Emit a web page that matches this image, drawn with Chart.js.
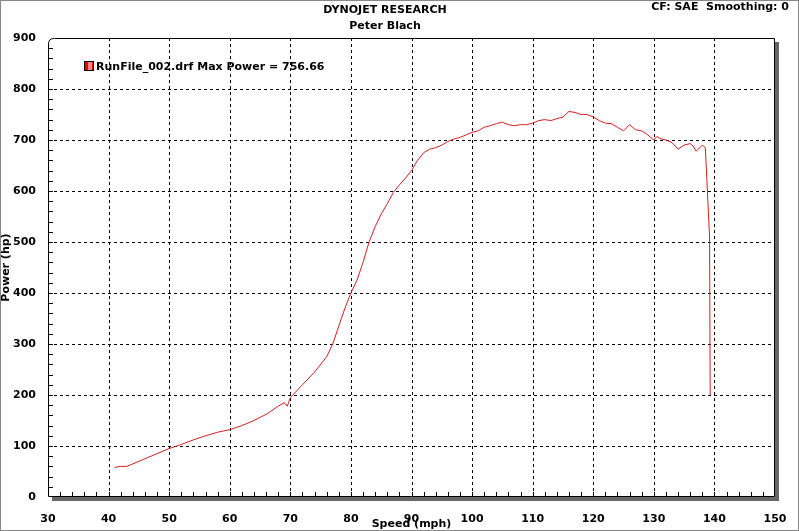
<!DOCTYPE html>
<html><head><meta charset="utf-8">
<script src="https://cdn.jsdelivr.net/npm/chart.js@4"></script>
<style>html,body{margin:0;background:#fff}#w{width:799px;height:531px}</style>
</head><body><div id="w"><canvas id="c" width="799" height="531"></canvas></div>
<script>
const speed = [41,42,43,44,45,46,47,48,49,50,52,54,56,58,60,62,64,66,68,69,69.5,70,72,74,76,77,78,79,80,81,82,83,84,85,86,87,88,89,90,91,92,93,94,95,96,97,98,99,100,101,102,103,104,105,106,107,108,109,110,111,112,113,114,115,116,117,118,119,120,121,122,123,124,125,126,127,128,129,130,130.5,131,132,133,134,135,136,136.5,137,138,138.5,139,139.2,139.3];
const power = [58,60,60,65,70,75,80,85,90,95,103,112,120,127,132,140,150,162,178,185,178,195,220,245,275,300,335,370,400,425,460,500,530,555,575,597,612,625,640,660,675,682,685,690,697,702,705,710,715,718,725,728,732,735,730,728,730,730,733,738,740,738,742,745,756,754,750,750,745,738,733,732,725,718,730,720,718,710,700,707,703,700,695,682,690,693,688,678,690,685,560,510,200];
const xTicks = [30,40,50,60,70,80,90,100,110,120,130,140,150];
const yTicks = [0,100,200,300,400,500,600,700,800,900];
const FONT = 'bold 11px "DejaVu Sans"';
const deco = {
  id:'deco',
  beforeDraw(ch){
    const c=ch.ctx,a=ch.chartArea;
    c.save();
    c.fillStyle='#fff';c.fillRect(0,0,799,531);
    c.strokeStyle='#888';c.lineWidth=1;c.strokeRect(0.5,0.5,798,530);
    c.fillStyle='#666';
    c.fillRect(a.right,a.top+4,4,a.bottom-a.top);
    c.fillRect(a.left+4,a.bottom,a.right-a.left,4);
    c.restore();
  },
  beforeDatasetsDraw(ch){
    const c=ch.ctx,a=ch.chartArea,x=ch.scales.x,y=ch.scales.y;
    c.save();c.strokeStyle='#000';c.lineWidth=1;c.setLineDash([3,3]);c.beginPath();
    xTicks.slice(1,-1).forEach(v=>{const p=Math.round(x.getPixelForValue(v))+0.5;c.moveTo(p,a.top);c.lineTo(p,a.bottom);});
    yTicks.slice(1,-1).forEach(v=>{const p=Math.round(y.getPixelForValue(v))+0.5;c.moveTo(a.left,p);c.lineTo(a.right,p);});
    c.stroke();c.restore();
  },
  afterDraw(ch){
    const c=ch.ctx,a=ch.chartArea,x=ch.scales.x,y=ch.scales.y;
    c.save();
    c.strokeStyle='#000';c.lineWidth=1;
    c.beginPath();
    for(let v=32;v<150;v+=2){const p=Math.round(x.getPixelForValue(v))+0.5;c.moveTo(p,a.bottom);c.lineTo(p,a.bottom-5);}
    for(let v=20;v<900;v+=20){const p=Math.round(y.getPixelForValue(v))+0.5;c.moveTo(a.left,p);c.lineTo(a.left+5,p);}
    c.stroke();
    c.beginPath();
    const r=6;c.moveTo(a.left+r+0.5,a.top+0.5);c.lineTo(a.right-0.5,a.top+0.5);c.lineTo(a.right-0.5,a.bottom-0.5);
    c.lineTo(a.left+0.5,a.bottom-0.5);c.lineTo(a.left+0.5,a.top+r);c.quadraticCurveTo(a.left+0.5,a.top+0.5,a.left+r,a.top+0.5);c.stroke();
    c.font=FONT;c.fillStyle='#000';c.textBaseline='middle';
    c.textAlign='center';
    c.fillText('DYNOJET RESEARCH',385,10);
    c.fillText('Peter Blach',385,26);
    c.textAlign='right';c.fillText('CF: SAE  Smoothing: 0',789,7);
    c.fillStyle='#e00';c.fillRect(84,61,9,10);c.fillStyle='#f88';c.fillRect(88,62,4,8);
    c.strokeStyle='#000';c.strokeRect(84.5,61.5,9,9);
    c.fillStyle='#000';c.textAlign='left';c.fillText('RunFile_002.drf Max Power = 756.66',96,67);
    c.restore();
  }
};
new Chart(document.getElementById('c'),{
  type:'line',
  data:{datasets:[{data:speed.map((s,i)=>({x:s,y:power[i]})),borderColor:'#d42020',borderWidth:1,pointRadius:0,tension:0}]},
  options:{
    responsive:false,animation:false,devicePixelRatio:1,
    layout:{padding:{top:38,right:24,left:0,bottom:0}},
    plugins:{legend:{display:false},tooltip:{enabled:false}},
    scales:{
      x:{type:'linear',min:30,max:150,
        afterBuildTicks:s=>{s.ticks=xTicks.map(v=>({value:v}));},
        afterFit:s=>{s.height=34;},
        grid:{display:false},border:{display:false},
        ticks:{color:'#000',font:{family:'DejaVu Sans',size:11,weight:'bold'},padding:8,maxRotation:0},
        title:{display:true,text:'Speed (mph)',color:'#000',font:{family:'DejaVu Sans',size:11,weight:'bold'},padding:{top:-2,bottom:0}}},
      y:{min:0,max:900,
        afterBuildTicks:s=>{s.ticks=yTicks.map(v=>({value:v}));},
        afterFit:s=>{s.width=48;},
        grid:{display:false},border:{display:false},
        ticks:{color:'#000',font:{family:'DejaVu Sans',size:11,weight:'bold'},padding:4},
        title:{display:true,text:'Power (hp)',color:'#000',font:{family:'DejaVu Sans',size:11,weight:'bold'},padding:{top:0,bottom:2}}}
    }
  },
  plugins:[deco]
});
</script></body></html>
